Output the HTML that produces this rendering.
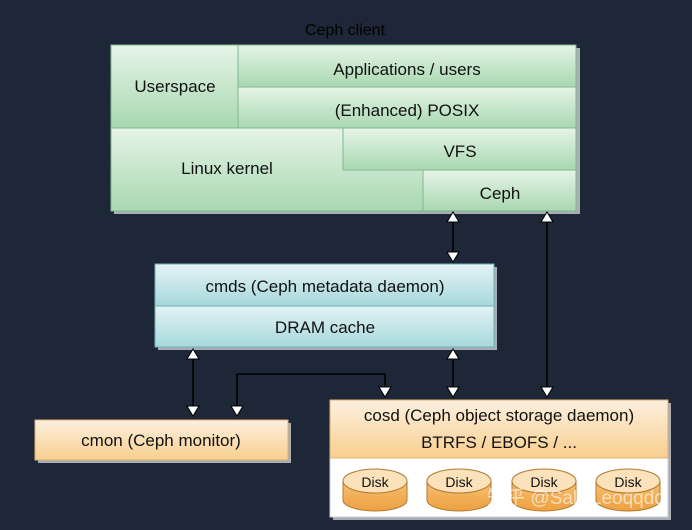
<!DOCTYPE html>
<html><head><meta charset="utf-8"><style>
html,body{margin:0;padding:0;background:#1e2738;}
svg{display:block;font-family:"Liberation Sans","Noto Sans CJK SC",sans-serif;}
</style></head><body>
<svg width="692" height="530" viewBox="0 0 692 530" xmlns="http://www.w3.org/2000/svg">
<defs>
<linearGradient id="g" x1="0" y1="0" x2="0" y2="1"><stop offset="0" stop-color="#e6f4e8"/><stop offset="1" stop-color="#a8d8b0"/></linearGradient>
<linearGradient id="b" x1="0" y1="0" x2="0" y2="1"><stop offset="0" stop-color="#e4f3f4"/><stop offset="1" stop-color="#a6d8dc"/></linearGradient>
<linearGradient id="o" x1="0" y1="0" x2="0" y2="1"><stop offset="0" stop-color="#fdf0e0"/><stop offset="1" stop-color="#f8cf8e"/></linearGradient>
<linearGradient id="d" x1="0" y1="0" x2="0" y2="1"><stop offset="0" stop-color="#f7c070"/><stop offset="1" stop-color="#eda040"/></linearGradient>
</defs>
<rect width="692" height="530" fill="#1e2738"/>
<text x="345" y="35" text-anchor="middle" font-size="16" fill="#000">Ceph client</text>
<rect x="114" y="48" width="466" height="166" fill="#a8adb6"/>
<g stroke="#7fb98a" stroke-width="1">
<rect x="111" y="45" width="127" height="83" fill="url(#g)"/>
<rect x="238" y="45" width="338" height="42" fill="url(#g)"/>
<rect x="238" y="87" width="338" height="41" fill="url(#g)"/>
<path d="M111 128 H343 V170 H423 V211 H111 Z" fill="url(#g)"/>
<rect x="343" y="128" width="233" height="42" fill="url(#g)"/>
<rect x="423" y="170" width="153" height="41" fill="url(#g)"/>
</g>
<g font-size="17" text-anchor="middle" fill="#111">
<text x="175" y="92">Userspace</text>
<text x="407" y="75">Applications / users</text>
<text x="407" y="116">(Enhanced) POSIX</text>
<text x="227" y="174">Linux kernel</text>
<text x="460" y="157">VFS</text>
<text x="500" y="199">Ceph</text>
</g>
<rect x="158" y="267" width="339" height="83" fill="#a8adb6"/>
<g stroke="#6fb0b6"><rect x="155" y="264" width="339" height="42" fill="url(#b)"/><rect x="155" y="306" width="339" height="41" fill="url(#b)"/></g>
<g font-size="17" text-anchor="middle" fill="#111">
<text x="325" y="292">cmds (Ceph metadata daemon)</text>
<text x="325" y="333">DRAM cache</text>
</g>
<rect x="38" y="423" width="253" height="40" fill="#a8adb6"/>
<rect x="35" y="420" width="253" height="40" fill="url(#o)" stroke="#e0b070"/>
<text x="161" y="446" font-size="17" text-anchor="middle" fill="#111">cmon (Ceph monitor)</text>
<rect x="333" y="403" width="338" height="117" fill="#a8adb6"/>
<rect x="330" y="400" width="338" height="117" fill="#fff" stroke="#ccc"/>
<rect x="330" y="400" width="338" height="58" fill="url(#o)" stroke="#e0b070"/>
<g font-size="17" text-anchor="middle" fill="#111">
<text x="499" y="421">cosd (Ceph object storage daemon)</text>
<text x="499" y="448">BTRFS / EBOFS / ...</text>
</g>
<g stroke="#b07a30" stroke-width="1">
<g id="dk">
<path d="M343 481 V500 A32 11 0 0 0 407 500 V481" fill="url(#d)"/>
<ellipse cx="375" cy="481" rx="32" ry="12" fill="#fbe2bb"/>
</g>
<use href="#dk" x="84"/><use href="#dk" x="169"/><use href="#dk" x="253"/>
</g>
<g font-size="14" text-anchor="middle" fill="#111">
<text x="375" y="487">Disk</text><text x="459" y="487">Disk</text><text x="544" y="487">Disk</text><text x="628" y="487">Disk</text>
</g>
<text x="576" y="504" font-size="19" text-anchor="middle" fill="#fff" fill-opacity="0.6">知乎 @SallyLeoqqdd</text>
<g stroke="#000" stroke-width="1.6" fill="none">
<line x1="453" y1="220" x2="453" y2="254"/>
<line x1="547" y1="220" x2="547" y2="388"/>
<line x1="453" y1="357" x2="453" y2="388"/>
<line x1="193" y1="357" x2="193" y2="408"/>
<polyline points="237,408 237,374 385,374 385,388"/>
</g>
<g fill="#fff" stroke="#000" stroke-width="1">
<polygon points="453,212 447,222 459,222"/>
<polygon points="453,262 447,252 459,252"/>
<polygon points="547,212 541,222 553,222"/>
<polygon points="547,397 541,387 553,387"/>
<polygon points="453,349 447,359 459,359"/>
<polygon points="453,397 447,387 459,387"/>
<polygon points="193,349 187,359 199,359"/>
<polygon points="193,416 187,406 199,406"/>
<polygon points="237,416 231,406 243,406"/>
<polygon points="385,397 379,387 391,387"/>
</g>
</svg>
</body></html>
